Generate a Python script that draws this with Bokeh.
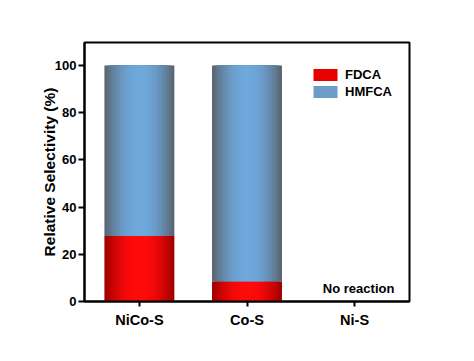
from bokeh.plotting import figure
from bokeh.models import Range1d, FixedTicker, Legend, LegendItem, Label
from bokeh.embed import file_html
from bokeh.resources import INLINE

categories = ["NiCo-S", "Co-S", "Ni-S"]
fdca = [27.7, 8.5, 0]
hmfca = [72.3, 91.5, 0]
y_ticks = [0, 20, 40, 60, 80, 100]

FONT = "Liberation Sans"
BAR_W = 0.65
N_LAYERS = 14

def lerp(c1, c2, t):
    return "#%02x%02x%02x" % tuple(int(round(a + (b - a) * t)) for a, b in zip(c1, c2))

red_edge, red_center = (160, 0, 0), (255, 10, 10)
blue_edge, blue_center = (90, 102, 114), (110, 168, 220)

p = figure(width=466, height=353, output_backend="svg", toolbar_location=None,
           x_range=Range1d(-0.51, 2.51), y_range=Range1d(0, 109.7),
           min_border_left=84, min_border_right=57, min_border_top=42, min_border_bottom=52)

xs = list(range(len(categories)))
idx = [i for i in xs if fdca[i] + hmfca[i] > 0]
bx = [xs[i] for i in idx]
f_top = [fdca[i] for i in idx]
h_top = [fdca[i] + hmfca[i] for i in idx]

for k in range(N_LAYERS):
    t = k / (N_LAYERS - 1)
    w = BAR_W * (1 - k / N_LAYERS)
    tt = (1 - (1 - t) ** 2)
    rc = lerp(red_edge, red_center, tt)
    bc = lerp(blue_edge, blue_center, tt)
    p.vbar(x=bx, bottom=0, top=f_top, width=w, fill_color=rc, line_color=None)
    p.vbar(x=bx, bottom=f_top, top=h_top, width=w, fill_color=bc, line_color=None)

# legend swatches
leg_red = p.vbar(x=[0], bottom=[0], top=[0], width=0, fill_color="#e80000", line_color=None)
leg_blue = p.vbar(x=[0], bottom=[0], top=[0], width=0, fill_color="#6d9ccb", line_color=None)

legend = Legend(items=[LegendItem(label="FDCA", renderers=[leg_red]),
                       LegendItem(label="HMFCA", renderers=[leg_blue])],
                location=(226, 202), padding=0, margin=0, spacing=2,
                glyph_width=30, glyph_height=15, label_standoff=5,
                label_text_font=FONT, label_text_font_style="bold",
                label_text_font_size="13px", label_height=15,
                label_text_color="black",
                border_line_alpha=0, background_fill_alpha=0)
p.add_layout(legend)

p.add_layout(Label(x=2, y=0, x_offset=4, y_offset=13, text="No reaction",
                   text_font=FONT, text_font_style="bold", text_font_size="13px",
                   text_color="black",
                   text_align="center", text_baseline="middle"))

p.xgrid.visible = False
p.ygrid.visible = False
p.outline_line_color = "black"
p.outline_line_width = 2

p.xaxis.ticker = FixedTicker(ticks=xs)
p.xaxis.major_label_overrides = {i: c for i, c in enumerate(categories)}
p.yaxis.ticker = FixedTicker(ticks=y_ticks)
p.yaxis.axis_label = "Relative Selectivity (%)"

for ax in (p.xaxis[0], p.yaxis[0]):
    ax.axis_line_width = 2
    ax.axis_line_color = "black"
    ax.major_tick_line_width = 2
    ax.major_tick_line_color = "black"
    ax.major_tick_in = 0
    ax.minor_tick_line_color = None
    ax.major_label_text_font = FONT
    ax.major_label_text_font_style = "bold"
    ax.major_label_text_color = "black"

p.xaxis.major_tick_out = 5
p.yaxis.major_tick_out = 6
p.xaxis.major_label_text_font_size = "14.5px"
p.yaxis.major_label_text_font_size = "13px"
p.xaxis.major_label_standoff = 5
p.yaxis.major_label_standoff = 2
p.yaxis.axis_label_text_font = FONT
p.yaxis.axis_label_text_font_style = "bold"
p.yaxis.axis_label_text_font_size = "15.5px"
p.yaxis.axis_label_text_color = "black"
p.yaxis.axis_label_standoff = -6

open("out.html", "w").write(file_html(p, INLINE))
